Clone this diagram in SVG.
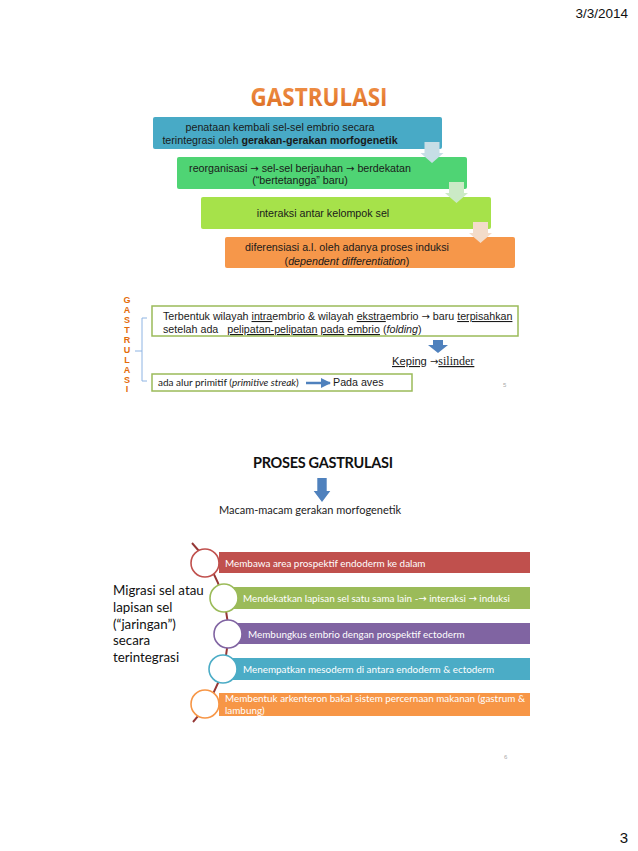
<svg xmlns="http://www.w3.org/2000/svg" width="638" height="851" viewBox="0 0 638 851">
<defs>
<linearGradient id="tg" x1="0" y1="0" x2="0" y2="1">
<stop offset="0" stop-color="#f59a52"/>
<stop offset="1" stop-color="#d9671c"/>
</linearGradient>
<marker id="ah" viewBox="0 0 10 10" refX="9" refY="5" markerWidth="4" markerHeight="4" orient="auto">
<path d="M0,0 L10,5 L0,10 z" fill="#4f81bd"/>
</marker>
</defs>
<style>
.a{font-family:"Liberation Sans",Arial,sans-serif;font-size:10.7px;fill:#1a1a1a}
.c{font-family:Lato,"Open Sans",sans-serif}
.w{fill:#ffffff;font-size:9.9px}
.u{text-decoration:underline}
.pre{white-space:pre}
.ar{font-family:"DejaVu Sans",sans-serif;font-size:10px}
.gs{font-family:"Liberation Sans",Arial,sans-serif;font-size:9px;font-weight:bold;fill:#e36c0a;text-anchor:middle}
.circ{fill:#ffffff;stroke-width:1.6}
</style>
<rect width="638" height="851" fill="#ffffff"/>
<text x="628" y="18" text-anchor="end" font-family="Liberation Sans, Arial, sans-serif" font-size="13.5" fill="#111">3/3/2014</text>
<text x="628" y="843" text-anchor="end" font-family="Liberation Sans, Arial, sans-serif" font-size="15" fill="#111">3</text>

<g id="title1">
<text x="319" y="106" text-anchor="middle" font-family="Open Sans, Lato, sans-serif" font-weight="bold" font-size="25" fill="url(#tg)" textLength="137" lengthAdjust="spacingAndGlyphs">GASTRULASI</text>
</g>

<g id="box1">
<rect x="153" y="117" width="289" height="32" rx="2" fill="#48aac6"/>
<text class="a" x="280" y="131" text-anchor="middle">penataan kembali sel-sel embrio secara</text>
<text class="a" x="280" y="143.5" text-anchor="middle">terintegrasi oleh <tspan font-weight="bold">gerakan-gerakan morfogenetik</tspan></text>
</g>
<g id="box2">
<rect x="177" y="157" width="290" height="32" rx="2" fill="#4fd474"/>
<text class="a" x="300" y="171.5" text-anchor="middle">reorganisasi <tspan class="ar">→</tspan> sel-sel berjauhan <tspan class="ar">→</tspan> berdekatan</text>
<text class="a" x="300" y="184" text-anchor="middle">(“bertetangga” baru)</text>
</g>
<g id="box3">
<rect x="201" y="197" width="290" height="32" rx="2" fill="#a6e24a"/>
<text class="a" x="323" y="217" text-anchor="middle">interaksi antar kelompok sel</text>
</g>
<g id="box4">
<rect x="225" y="237" width="290" height="31" rx="2" fill="#f6974a"/>
<text class="a" x="347" y="251" text-anchor="middle">diferensiasi a.l. oleh adanya proses induksi</text>
<text class="a" x="347" y="265" text-anchor="middle">(<tspan font-style="italic">dependent differentiation</tspan>)</text>
</g>

<g id="connectors">
<path d="M424.5,142 h15 v11 h4 l-11.5,10 l-11.5,-10 h4 z" fill="#c6dee6"/>
<path d="M449,182 h15 v11 h4 l-11.5,10 l-11.5,-10 h4 z" fill="#cbeac6"/>
<path d="M473,222 h15 v11 h4 l-11.5,10 l-11.5,-10 h4 z" fill="#f3dcca"/>
<path d="M147,318 H142 V381 H147 M142,351 H135" fill="none" stroke="#8eb4e3" stroke-width="1"/>
<path d="M433,340 h10 v5 h5 l-10,8 l-10,-8 h5 z" fill="#4f81bd"/>
<path d="M317.3,478 h9.4 v13 h3.6 l-8.3,11 l-8.3,-11 h3.6 z" fill="#4f81bd"/>
<path d="M192,543 A130.5,130.5 0 0 1 193,722" fill="none" stroke="#953735" stroke-width="2"/>
</g>

<g id="gastrulasi-label">
<text class="gs" x="127" y="303">G</text>
<text class="gs" x="127" y="313">A</text>
<text class="gs" x="127" y="323">S</text>
<text class="gs" x="127" y="333">T</text>
<text class="gs" x="127" y="342.5">R</text>
<text class="gs" x="127" y="352.5">U</text>
<text class="gs" x="127" y="362.5">L</text>
<text class="gs" x="127" y="372.5">A</text>
<text class="gs" x="127" y="382.5">S</text>
<text class="gs" x="127" y="392">I</text>
</g>

<g id="boxA">
<rect x="152" y="306" width="366" height="30" fill="#ffffff" stroke="#9bbb59" stroke-width="1.5"/>
<text class="a pre" x="163" y="320">Terbentuk wilayah <tspan class="u">intra</tspan>embrio &amp; wilayah <tspan class="u">ekstra</tspan>embrio <tspan class="ar">→</tspan> baru <tspan class="u">terpisahkan</tspan></text>
<text class="a pre" x="163" y="333">setelah ada   <tspan class="u">pelipatan-pelipatan</tspan> <tspan class="u">pada</tspan> <tspan class="u">embrio</tspan> (<tspan font-style="italic">folding</tspan>)</text>
</g>

<g id="keping">
<text x="392" y="365" font-family="Liberation Sans, Arial, sans-serif" font-size="11.2" fill="#1a1a1a"><tspan class="u">Keping</tspan> <tspan class="ar" font-size="11">→</tspan><tspan class="u" font-family="Liberation Serif, Times New Roman, serif" font-size="12">silinder</tspan></text>
</g>

<g id="boxB">
<rect x="152" y="374" width="260" height="17" fill="#ffffff" stroke="#9bbb59" stroke-width="1.5"/>
<text class="c" x="158" y="386" font-size="10" fill="#1a1a1a">ada alur primitif (<tspan font-style="italic">primitive streak</tspan>)</text>
<line x1="306" y1="383" x2="330" y2="383" stroke="#4f81bd" stroke-width="2.5" marker-end="url(#ah)"/>
<text class="a" x="333" y="386">Pada aves</text>
</g>
<text x="503" y="387" font-family="Liberation Sans, Arial, sans-serif" font-size="6" fill="#aaa">5</text>

<g id="title2">
<text class="c" x="323" y="468" text-anchor="middle" font-weight="bold" font-size="14.5" fill="#111" textLength="140">PROSES GASTRULASI</text>
</g>
<g id="subtitle2">
<text class="c" x="310" y="514" text-anchor="middle" font-size="11" fill="#222">Macam-macam gerakan morfogenetik</text>
</g>

<g id="left-text">
<text class="c" x="113" font-size="13.3" fill="#111"><tspan x="113" y="595">Migrasi sel atau</tspan><tspan x="113" y="612">lapisan sel</tspan><tspan x="113" y="628.5">(“jaringan”)</tspan><tspan x="113" y="645">secara</tspan><tspan x="113" y="662">terintegrasi</tspan></text>
</g>

<g id="item1">
<rect x="219" y="552" width="311" height="21" fill="#c0504d"/>
<circle class="circ" cx="205" cy="563" r="14" stroke="#c0504d"/>
<text class="c w" x="225" y="566.5">Membawa area prospektif endoderm ke dalam</text>
</g>
<g id="item2">
<rect x="233" y="587" width="297" height="22" fill="#9bbb59"/>
<circle class="circ" cx="224" cy="598" r="14" stroke="#9bbb59"/>
<text class="c w" x="243" y="601.5">Mendekatkan lapisan sel satu sama lain -<tspan class="ar" font-size="9.5">→</tspan> interaksi <tspan class="ar" font-size="9.5">→</tspan> induksi</text>
</g>
<g id="item3">
<rect x="237" y="623" width="293" height="21" fill="#8064a2"/>
<circle class="circ" cx="228" cy="634" r="14" stroke="#8064a2"/>
<text class="c w" x="248" y="637.5">Membungkus embrio dengan prospektif ectoderm</text>
</g>
<g id="item4">
<rect x="232" y="658" width="298" height="22" fill="#4bacc6"/>
<circle class="circ" cx="223" cy="669" r="14" stroke="#4bacc6"/>
<text class="c w" x="243" y="672.5">Menempatkan mesoderm di antara endoderm &amp; ectoderm</text>
</g>
<g id="item5">
<rect x="219" y="693" width="311" height="23" fill="#f79646"/>
<circle class="circ" cx="205" cy="704" r="14" stroke="#f79646"/>
<text class="c w" x="225" y="701.5">Membentuk arkenteron bakal sistem percernaan makanan (gastrum &amp;</text>
<text class="c w" x="225" y="713.5">lambung)</text>
</g>
<text x="504" y="759" font-family="Liberation Sans, Arial, sans-serif" font-size="6" fill="#aaa">6</text>
</svg>
